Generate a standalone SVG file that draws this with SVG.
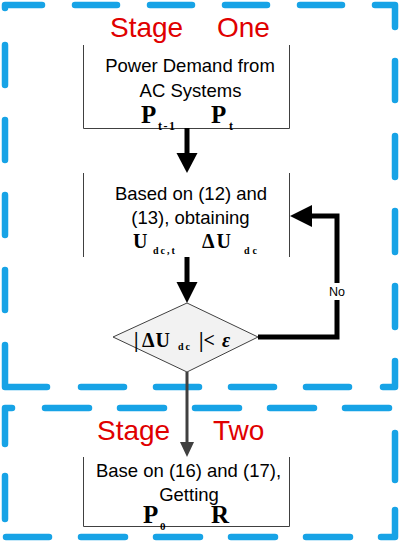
<svg xmlns="http://www.w3.org/2000/svg" width="403" height="541" viewBox="0 0 403 541">
<defs>
<style>
.frame{fill:none;stroke:#17a3e6;stroke-width:6.5;stroke-linecap:round;stroke-linejoin:round}
.box{fill:none;stroke:#404040;stroke-width:1}
.txt{font-family:"Liberation Sans",Arial,sans-serif;font-size:18.5px;fill:#000;text-anchor:middle}
.stage{font-family:"Liberation Sans",Arial,sans-serif;font-size:28px;fill:#e00000}
.math{font-family:"Liberation Serif","Times New Roman",serif;font-weight:bold;fill:#000}
.thick{fill:none;stroke:#000;stroke-width:5}
.thin{fill:none;stroke:#404040;stroke-width:3}
</style>
</defs>
<rect width="403" height="541" fill="#fff"/>

<g id="stage-one">
<path class="frame" d="M5,8 L5,5 L42,5 M75,5 L117,5 M150,5 L192,5 M225,5 L267,5 M300,5 L342,5 M375,5 L395,5 L395,27 M395,61 L395,100 M395,136 L395,177 M395,211 L395,252 M395,286 L395,327 M395,361 L395,387 L383,387 M349,387 L306,387 M274,387 L231,387 M199,387 L156,387 M124,387 L81,387 M47,387 L5,387 L5,345 M5,310 L5,270 M5,235 L5,195 M5,160 L5,120 M5,85 L5,45"/>
<text class="stage" x="110" y="37">Stage</text>
<text class="stage" x="217" y="37">One</text>
</g>

<g id="stage-two">
<path class="frame" d="M5,444 L5,408 L12,408 M45,408 L89,408 M120,408 L164,408 M195,408 L239,408 M270,408 L314,408 M345,408 L389,408 M395,433 L395,480 M395,510 L395,537 L381,537 M350,537 L306,537 M275,537 L231,537 M200,537 L156,537 M125,537 L81,537 M49,537 L6,537 M5,519 L5,476"/>
<text class="stage" x="97" y="440">Stage</text>
<text class="stage" x="213" y="440">Two</text>
</g>

<g id="node-power-demand">
<path class="box" d="M83.5,45 L83.5,128.5 L289.5,128.5 L289.5,45"/>
<text class="txt" x="190" y="72">Power Demand from</text>
<text class="txt" x="190.5" y="97">AC Systems</text>
<text class="math" x="141" y="123" font-size="25">P</text>
<text class="math" x="158" y="130" font-size="12" letter-spacing="1.5">t-1</text>
<text class="math" x="211" y="123" font-size="25">P</text>
<text class="math" x="229" y="130" font-size="12">t</text>
</g>

<g id="node-based-on">
<path class="box" d="M83.5,173 L83.5,257 M289.5,173 L289.5,257"/>
<text class="txt" x="191" y="200">Based on (12) and</text>
<text class="txt" x="190.5" y="224">(13), obtaining</text>
<text class="math" x="133" y="248" font-size="20">U</text>
<text class="math" x="153" y="254" font-size="10" letter-spacing="2">dc,t</text>
<text class="math" x="202" y="248" font-size="20" letter-spacing="2">ΔU</text>
<text class="math" x="244" y="254" font-size="10" letter-spacing="3">dc</text>
</g>

<g id="node-decision">
<polygon points="187,303 258,337 187,372 113,337" fill="#f2f2f2" stroke="#404040" stroke-width="1"/>
<text class="math" x="134" y="347" font-size="20" font-weight="normal">|</text>
<text class="math" x="142" y="347" font-size="20" letter-spacing="1">ΔU</text>
<text class="math" x="178" y="350" font-size="10" letter-spacing="2">dc</text>
<text class="math" x="199" y="347" font-size="20" font-weight="normal">|&lt;</text>
<text class="math" x="222" y="347" font-size="20" font-style="italic" font-weight="normal">ε</text>
</g>

<g id="node-base-on">
<path class="box" d="M83.5,457 L83.5,526.5 L289.5,526.5 L289.5,457"/>
<text class="txt" x="188.5" y="477">Base on (16) and (17),</text>
<text class="txt" x="189" y="501">Getting</text>
<text class="math" x="143" y="523" font-size="25">P</text>
<text class="math" x="160" y="530" font-size="11" font-weight="normal">0</text>
<text class="math" x="211" y="523" font-size="25">R</text>
</g>

<g id="connectors">
<line class="thick" x1="187" y1="128" x2="187" y2="156"/>
<polygon points="176.5,153 197.5,153 187,173" fill="#000"/>
<line class="thick" x1="187" y1="257" x2="187" y2="285"/>
<polygon points="176.5,282 197.5,282 187,303" fill="#000"/>
<polyline class="thick" points="258,337 337,337 337,216 309,216"/>
<polygon points="290,216 312,205 312,227" fill="#000"/>
<rect x="325" y="283" width="24" height="17" fill="#fff"/>
<text x="337" y="296" font-family="'Liberation Sans',Arial,sans-serif" font-size="12.5" text-anchor="middle" fill="#000">No</text>
<line class="thin" x1="187" y1="372" x2="187" y2="444"/>
<polygon points="180,442 194,442 187,457" fill="#404040"/>
</g>
</svg>
